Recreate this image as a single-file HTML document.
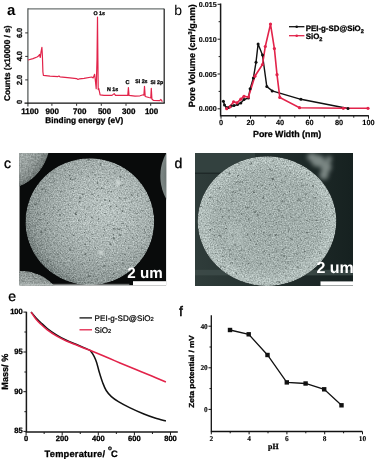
<!DOCTYPE html>
<html><head><meta charset="utf-8"><style>
html,body{margin:0;padding:0;background:#fff;}
body{width:377px;height:461px;overflow:hidden;}
svg{display:block;filter:blur(0.3px);font-family:"Liberation Sans", Arial, sans-serif;text-rendering:geometricPrecision;}
</style></head><body>
<svg width="377" height="461" viewBox="0 0 377 461">
<defs>
<clipPath id="clipc"><rect x="19.3" y="153" width="147" height="132.6"/></clipPath>
<clipPath id="clipd"><rect x="195" y="153" width="158" height="133"/></clipPath>
<radialGradient id="gC" cx="0.62" cy="0.4" r="0.72">
 <stop offset="0" stop-color="#b8c2c0"/><stop offset="0.4" stop-color="#aab4b2"/><stop offset="0.68" stop-color="#98a2a0"/><stop offset="0.8" stop-color="#8d9795"/><stop offset="0.88" stop-color="#7a8482"/><stop offset="0.95" stop-color="#6a7472"/><stop offset="1" stop-color="#646e6c"/>
</radialGradient>
<radialGradient id="gD" cx="0.5" cy="0.5" r="0.5">
 <stop offset="0" stop-color="#a0aca9"/><stop offset="0.75" stop-color="#a4b0ad"/><stop offset="0.93" stop-color="#b3bfbc"/><stop offset="1" stop-color="#aebab7"/>
</radialGradient>
<linearGradient id="gDbg" x1="0" y1="0" x2="1" y2="0">
 <stop offset="0" stop-color="#2f3c3a"/><stop offset="1" stop-color="#162120"/>
</linearGradient>
<radialGradient id="gTL" cx="0.5" cy="0.5" r="0.5">
 <stop offset="0.35" stop-color="#a9b1af"/><stop offset="0.65" stop-color="#9ca4a2"/><stop offset="0.88" stop-color="#868e8c"/><stop offset="1" stop-color="#6a7270"/>
</radialGradient>
<radialGradient id="gTR" cx="0.5" cy="0.5" r="0.5">
 <stop offset="0.75" stop-color="#5a6260"/><stop offset="0.93" stop-color="#76807e"/><stop offset="1" stop-color="#7e8886"/>
</radialGradient>
<radialGradient id="gBL" cx="0.5" cy="0.5" r="0.5">
 <stop offset="0.6" stop-color="#a6aeac"/><stop offset="1" stop-color="#8a9290"/>
</radialGradient>
<filter id="tex" x="0" y="0" width="1" height="1" color-interpolation-filters="sRGB">
 <feTurbulence type="fractalNoise" baseFrequency="0.75" numOctaves="2" seed="7" result="t"/>
 <feColorMatrix in="t" type="matrix" values="1 0 0 0 0  1 0 0 0 0  1 0 0 0 0  0 0 0 0 1" result="g"/>
 <feGaussianBlur in="g" stdDeviation="0.3" result="gb"/>
 <feComposite in="SourceGraphic" in2="gb" operator="arithmetic" k1="0" k2="1" k3="0.45" k4="-0.225" result="c"/>
 <feTurbulence type="fractalNoise" baseFrequency="0.32" numOctaves="2" seed="11" result="t2"/>
 <feColorMatrix in="t2" type="matrix" values="0 0 0 0 0.38  0 0 0 0 0.42  0 0 0 0 0.41  -6 0 0 0 2.0" result="spk"/>
 <feGaussianBlur in="spk" stdDeviation="0.35" result="spkb"/>
 <feComposite in="spkb" in2="c" operator="over" result="c2"/>
 <feComposite in="c2" in2="SourceGraphic" operator="in"/>
</filter>
<filter id="texs" x="0" y="0" width="1" height="1" color-interpolation-filters="sRGB">
 <feTurbulence type="fractalNoise" baseFrequency="0.6" numOctaves="2" seed="3" result="t"/>
 <feColorMatrix in="t" type="matrix" values="1 0 0 0 0  1 0 0 0 0  1 0 0 0 0  0 0 0 0 1" result="g"/>
 <feGaussianBlur in="g" stdDeviation="0.6" result="gb"/>
 <feComposite in="SourceGraphic" in2="gb" operator="arithmetic" k1="0" k2="1" k3="0.35" k4="-0.175" result="c"/>
 <feComposite in="c" in2="SourceGraphic" operator="in"/>
</filter>
<filter id="blur05" x="-1" y="-1" width="3" height="3"><feGaussianBlur stdDeviation="0.5"/></filter>
<filter id="blur08" x="-1" y="-1" width="3" height="3"><feGaussianBlur stdDeviation="0.8"/></filter>
<filter id="blur2" x="-0.5" y="-0.5" width="2" height="2"><feGaussianBlur stdDeviation="1.9"/></filter>
</defs>
<text x="7" y="15.1" font-size="15" font-weight="bold"  >a</text>
<path d="M28,8.8 H164.2" fill="none" stroke="#6d7372" stroke-width="1.2"/>
<path d="M164.2,8.8 V103.1" fill="none" stroke="#2a2a2a" stroke-width="1.3"/>
<path d="M27.9,8.2 V106.5" fill="none" stroke="#4d5352" stroke-width="1.2"/>
<path d="M24.5,103.1 H164.8" fill="none" stroke="#111" stroke-width="1.4"/>
<line x1="25.2" y1="79.9" x2="28" y2="79.9" stroke="#333" stroke-width="1"/>
<line x1="25.2" y1="56.4" x2="28" y2="56.4" stroke="#333" stroke-width="1"/>
<line x1="25.2" y1="32.9" x2="28" y2="32.9" stroke="#333" stroke-width="1"/>
<line x1="51.9" y1="103.1" x2="51.9" y2="105.8" stroke="#333" stroke-width="1"/>
<line x1="76.6" y1="103.1" x2="76.6" y2="105.8" stroke="#333" stroke-width="1"/>
<line x1="101.3" y1="103.1" x2="101.3" y2="105.8" stroke="#333" stroke-width="1"/>
<line x1="126.0" y1="103.1" x2="126.0" y2="105.8" stroke="#333" stroke-width="1"/>
<line x1="150.7" y1="103.1" x2="150.7" y2="105.8" stroke="#333" stroke-width="1"/>
<text transform="translate(21.9,102.0) rotate(-90) scale(1.0,1)" text-anchor="middle" font-size="7.4" font-weight="bold" stroke="#000" stroke-width="0.28">0</text>
<text transform="translate(21.9,79.9) rotate(-90) scale(1.0,1)" text-anchor="middle" font-size="7.4" font-weight="bold" stroke="#000" stroke-width="0.28">2.0</text>
<text transform="translate(21.9,56.2) rotate(-90) scale(1.0,1)" text-anchor="middle" font-size="7.4" font-weight="bold" stroke="#000" stroke-width="0.28">4.0</text>
<text transform="translate(21.9,32.9) rotate(-90) scale(1.0,1)" text-anchor="middle" font-size="7.4" font-weight="bold" stroke="#000" stroke-width="0.28">6.0</text>
<text x="30.0" y="113.8" font-size="8.0" font-weight="bold" text-anchor="middle" stroke="#000" stroke-width="0.28" >1100</text>
<text x="52.2" y="113.8" font-size="8.0" font-weight="bold" text-anchor="middle" stroke="#000" stroke-width="0.28" >900</text>
<text x="79.7" y="113.8" font-size="8.0" font-weight="bold" text-anchor="middle" stroke="#000" stroke-width="0.28" >700</text>
<text x="104.6" y="113.8" font-size="8.0" font-weight="bold" text-anchor="middle" stroke="#000" stroke-width="0.28" >500</text>
<text x="128.7" y="113.8" font-size="8.0" font-weight="bold" text-anchor="middle" stroke="#000" stroke-width="0.28" >300</text>
<text x="151.6" y="113.8" font-size="8.0" font-weight="bold" text-anchor="middle" stroke="#000" stroke-width="0.28" >100</text>
<text x="45.3" y="123.4" font-size="8.25" font-weight="bold" stroke="#000" stroke-width="0.28" >Binding energy (eV)</text>
<text transform="translate(10.3,63.2) rotate(-90) scale(1.0,1)" text-anchor="middle" font-size="8.3" font-weight="bold" stroke="#000" stroke-width="0.28">Counts (x10000 / s)</text>
<polyline points="28.0,60.0 33.0,58.6 37.0,57.0 38.5,56.0 39.5,54.5 40.3,57.5 41.0,52.0 41.9,47.4 42.4,56.0 42.9,72.0 43.4,75.3 50.0,76.2 58.0,76.6 59.0,76.0 60.0,76.9 70.0,77.9 76.5,78.6 78.0,79.5 79.5,78.8 84.0,78.3 91.8,77.0 93.2,77.9 94.6,74.3 95.2,79.0 96.2,88.7 97.0,60.0 97.5,17.2 97.9,60.0 98.2,89.6 98.8,88.5 100.1,94.8 104.0,95.3 112.0,95.4 114.2,93.6 115.5,95.4 127.8,95.4 128.4,87.6 129.0,95.4 135.0,96.2 140.0,95.8 143.3,94.8 143.9,95.2 144.5,86.4 145.2,96.5 148.9,97.5 150.8,97.8 151.3,88.4 151.9,99.0 153.3,100.3 159.7,100.7 160.9,99.5 162.4,101.6" fill="none" stroke="#e2234a" stroke-width="1.2" stroke-linejoin="round"/>
<text x="93.4" y="14.8" font-size="5.3" font-weight="bold" stroke="#000" stroke-width="0.28" >O 1s</text>
<text x="107" y="91" font-size="5.3" font-weight="bold" stroke="#000" stroke-width="0.28" >N 1s</text>
<text x="125.6" y="83.5" font-size="5.6" font-weight="bold" stroke="#000" stroke-width="0.28" >C</text>
<text x="135.2" y="83" font-size="5.3" font-weight="bold" stroke="#000" stroke-width="0.28" >Si 2s</text>
<text x="150.5" y="84" font-size="5.3" font-weight="bold" stroke="#000" stroke-width="0.28" >Si 2p</text>
<text x="174.3" y="15.1" font-size="14"  >b</text>
<path d="M220.6,3.5 V115.7 H368.8" fill="none" stroke="#1a1a1a" stroke-width="1.5"/>
<line x1="217.6" y1="4.3" x2="220.6" y2="4.3" stroke="#1a1a1a" stroke-width="1"/>
<line x1="218.6" y1="21.7" x2="220.6" y2="21.7" stroke="#1a1a1a" stroke-width="1"/>
<line x1="217.6" y1="39.2" x2="220.6" y2="39.2" stroke="#1a1a1a" stroke-width="1"/>
<line x1="218.6" y1="56.6" x2="220.6" y2="56.6" stroke="#1a1a1a" stroke-width="1"/>
<line x1="217.6" y1="74.0" x2="220.6" y2="74.0" stroke="#1a1a1a" stroke-width="1"/>
<line x1="218.6" y1="91.4" x2="220.6" y2="91.4" stroke="#1a1a1a" stroke-width="1"/>
<line x1="217.6" y1="108.8" x2="220.6" y2="108.8" stroke="#1a1a1a" stroke-width="1"/>
<line x1="221.00" y1="115.7" x2="221.00" y2="118.7" stroke="#1a1a1a" stroke-width="1"/>
<line x1="235.75" y1="115.7" x2="235.75" y2="117.7" stroke="#1a1a1a" stroke-width="1"/>
<line x1="250.50" y1="115.7" x2="250.50" y2="118.7" stroke="#1a1a1a" stroke-width="1"/>
<line x1="265.25" y1="115.7" x2="265.25" y2="117.7" stroke="#1a1a1a" stroke-width="1"/>
<line x1="280.00" y1="115.7" x2="280.00" y2="118.7" stroke="#1a1a1a" stroke-width="1"/>
<line x1="294.75" y1="115.7" x2="294.75" y2="117.7" stroke="#1a1a1a" stroke-width="1"/>
<line x1="309.50" y1="115.7" x2="309.50" y2="118.7" stroke="#1a1a1a" stroke-width="1"/>
<line x1="324.25" y1="115.7" x2="324.25" y2="117.7" stroke="#1a1a1a" stroke-width="1"/>
<line x1="339.00" y1="115.7" x2="339.00" y2="118.7" stroke="#1a1a1a" stroke-width="1"/>
<line x1="353.75" y1="115.7" x2="353.75" y2="117.7" stroke="#1a1a1a" stroke-width="1"/>
<line x1="368.50" y1="115.7" x2="368.50" y2="118.7" stroke="#1a1a1a" stroke-width="1"/>
<text x="216.7" y="6.9" font-size="7.2" font-weight="bold" text-anchor="end" stroke="#000" stroke-width="0.1" >0.015</text>
<text x="216.7" y="41.8" font-size="7.2" font-weight="bold" text-anchor="end" stroke="#000" stroke-width="0.1" >0.010</text>
<text x="216.7" y="76.6" font-size="7.2" font-weight="bold" text-anchor="end" stroke="#000" stroke-width="0.1" >0.005</text>
<text x="216.7" y="111.4" font-size="7.2" font-weight="bold" text-anchor="end" stroke="#000" stroke-width="0.1" >0.000</text>
<text x="221.0" y="125.4" font-size="7.4" font-weight="bold" text-anchor="middle" stroke="#000" stroke-width="0.1" >0</text>
<text x="250.5" y="125.4" font-size="7.4" font-weight="bold" text-anchor="middle" stroke="#000" stroke-width="0.1" >20</text>
<text x="280.0" y="125.4" font-size="7.4" font-weight="bold" text-anchor="middle" stroke="#000" stroke-width="0.1" >40</text>
<text x="309.5" y="125.4" font-size="7.4" font-weight="bold" text-anchor="middle" stroke="#000" stroke-width="0.1" >60</text>
<text x="339.0" y="125.4" font-size="7.4" font-weight="bold" text-anchor="middle" stroke="#000" stroke-width="0.1" >80</text>
<text x="368.5" y="125.4" font-size="7.4" font-weight="bold" text-anchor="middle" stroke="#000" stroke-width="0.1" >100</text>
<text x="253.0" y="136.5" font-size="8.85" font-weight="bold" stroke="#000" stroke-width="0.28" >Pore Width (nm)</text>
<text transform="translate(195.4,55.8) rotate(-90) scale(1.0,1)" text-anchor="middle" font-size="9.0" font-weight="bold" stroke="#000" stroke-width="0.28">Pore Volume (cm<tspan font-size="5.6" dy="-3.4">3</tspan><tspan dy="3.4">/g.nm)</tspan></text>
<polyline points="223.4,101.3 224.5,105.0 226.7,107.8 228.5,107.5 231.0,106.1 234.0,105.6 237.5,104.6 240.8,102.9 244.0,99.6 248.4,97.9 250.1,88.8 253.4,77.9 256.0,62.3 258.1,43.9 262.5,55.1 266.8,86.6 272.2,90.9 300.9,99.3 348.0,108.5" fill="none" stroke="#111" stroke-width="1.4"/>
<polyline points="226.7,108.7 230.0,106.8 233.6,101.8 237.0,102.8 240.8,99.2 244.0,96.3 248.4,97.0 254.9,76.2 262.5,64.5 265.3,46.5 270.5,24.1 274.4,48.6 277.0,74.7 279.8,97.4 299.5,107.7 343.3,108.3 368.0,108.3" fill="none" stroke="#e2234a" stroke-width="1.6"/>
<circle cx="223.4" cy="101.3" r="1.5" fill="#111"/>
<circle cx="224.5" cy="105" r="1.5" fill="#111"/>
<circle cx="226.7" cy="107.8" r="1.5" fill="#111"/>
<circle cx="228.5" cy="107.5" r="1.5" fill="#111"/>
<circle cx="231" cy="106.1" r="1.5" fill="#111"/>
<circle cx="234" cy="105.6" r="1.5" fill="#111"/>
<circle cx="237.5" cy="104.6" r="1.5" fill="#111"/>
<circle cx="240.8" cy="102.9" r="1.5" fill="#111"/>
<circle cx="244" cy="99.6" r="1.5" fill="#111"/>
<circle cx="248.4" cy="97.9" r="1.5" fill="#111"/>
<circle cx="250.1" cy="88.8" r="1.5" fill="#111"/>
<circle cx="253.4" cy="77.9" r="1.5" fill="#111"/>
<circle cx="256" cy="62.3" r="1.5" fill="#111"/>
<circle cx="258.1" cy="43.9" r="1.5" fill="#111"/>
<circle cx="262.5" cy="55.1" r="1.5" fill="#111"/>
<circle cx="266.8" cy="86.6" r="1.5" fill="#111"/>
<circle cx="272.2" cy="90.9" r="1.5" fill="#111"/>
<circle cx="300.9" cy="99.3" r="1.5" fill="#111"/>
<circle cx="348" cy="108.5" r="1.5" fill="#111"/>
<circle cx="226.7" cy="108.7" r="1.6" fill="#e2234a"/>
<circle cx="230" cy="106.8" r="1.6" fill="#e2234a"/>
<circle cx="233.6" cy="101.8" r="1.6" fill="#e2234a"/>
<circle cx="237" cy="102.8" r="1.6" fill="#e2234a"/>
<circle cx="240.8" cy="99.2" r="1.6" fill="#e2234a"/>
<circle cx="244" cy="96.3" r="1.6" fill="#e2234a"/>
<circle cx="248.4" cy="97" r="1.6" fill="#e2234a"/>
<circle cx="254.9" cy="76.2" r="1.6" fill="#e2234a"/>
<circle cx="262.5" cy="64.5" r="1.6" fill="#e2234a"/>
<circle cx="265.3" cy="46.5" r="1.6" fill="#e2234a"/>
<circle cx="270.5" cy="24.1" r="1.6" fill="#e2234a"/>
<circle cx="274.4" cy="48.6" r="1.6" fill="#e2234a"/>
<circle cx="277" cy="74.7" r="1.6" fill="#e2234a"/>
<circle cx="279.8" cy="97.4" r="1.6" fill="#e2234a"/>
<circle cx="299.5" cy="107.7" r="1.6" fill="#e2234a"/>
<circle cx="343.3" cy="108.3" r="1.6" fill="#e2234a"/>
<circle cx="368" cy="108.3" r="1.6" fill="#e2234a"/>
<line x1="289" y1="26.7" x2="304.4" y2="26.7" stroke="#111" stroke-width="1.3"/><circle cx="296.7" cy="26.7" r="1.3" fill="#111"/>
<line x1="289" y1="35.7" x2="304.4" y2="35.7" stroke="#e2234a" stroke-width="1.3"/><circle cx="296.7" cy="35.7" r="1.3" fill="#e2234a"/>
<text x="305.7" y="30.6" font-size="7.9" font-weight="bold" stroke="#000" stroke-width="0.28" >PEI-g-SD@SiO<tspan font-size="5.6" dy="2">2</tspan></text>
<text x="305.7" y="39.4" font-size="7.9" font-weight="bold" stroke="#000" stroke-width="0.28" >SiO<tspan font-size="5.6" dy="2">2</tspan></text>
<g clip-path="url(#clipc)">
<rect x="19.3" y="153" width="147" height="132.6" fill="#090b0b"/>
<circle cx="0.2" cy="140.3" r="50" fill="url(#gTL)" filter="url(#texs)"/>
<circle cx="206.9" cy="176.1" r="46.6" fill="url(#gTR)"/>
<circle cx="21.3" cy="315" r="44.2" fill="url(#gBL)" filter="url(#tex)"/>
<ellipse cx="89.8" cy="221.7" rx="64.4" ry="63.5" fill="url(#gC)" filter="url(#tex)"/>
<g filter="url(#blur08)" fill="#d2dad8">
 <ellipse cx="118.5" cy="183" rx="2.2" ry="2.8"/><ellipse cx="101" cy="252.5" rx="2.4" ry="2"/><ellipse cx="84" cy="224" rx="1.2" ry="1.2"/><ellipse cx="88" cy="223" rx="1" ry="1.4"/>
</g>
<g filter="url(#blur05)" fill="#4f5856" opacity="0.7">
 <circle cx="80" cy="198" r="1"/><circle cx="60" cy="215" r="0.9"/><circle cx="70" cy="250" r="1"/><circle cx="105" cy="200" r="0.9"/><circle cx="120" cy="235" r="1"/><circle cx="45" cy="230" r="0.9"/><circle cx="95" cy="175" r="0.8"/><circle cx="130" cy="210" r="0.8"/>
</g>
<rect x="19.3" y="283.8" width="110" height="1.8" fill="#c4ccca" opacity="0.55"/>
<text x="127.3" y="277.7" font-size="15.2" font-weight="bold" fill="#fff">2 um</text>
<rect x="133" y="281.2" width="33.3" height="4.4" fill="#fff"/>
</g>
<text x="4.0" y="168.0" font-size="14" stroke="#000" stroke-width="0.35" >c</text>
<g clip-path="url(#clipd)">
<rect x="195" y="153" width="158" height="133" fill="url(#gDbg)"/>
<rect x="195" y="153" width="60" height="20" fill="#33413f"/>
<rect x="195" y="172.6" width="60" height="1.2" fill="#182120" opacity="0.8"/>
<rect x="195" y="269.8" width="158" height="5.6" fill="#3d4b49" opacity="0.85"/>
<g filter="url(#blur2)" fill="#7a8683">
 <ellipse cx="318" cy="161" rx="7" ry="6"/><ellipse cx="326" cy="167" rx="5.5" ry="6"/><ellipse cx="324" cy="175" rx="4.5" ry="4.5"/><ellipse cx="312" cy="157" rx="5" ry="4"/><ellipse cx="329" cy="159" rx="3" ry="3"/>
</g>
<ellipse cx="267" cy="221.1" rx="69.4" ry="64.9" fill="url(#gD)" filter="url(#tex)"/>
<rect x="227.6" y="224.6" width="15.3" height="21" fill="#bcc8c5" opacity="0.3" filter="url(#blur05)"/>
<g filter="url(#blur05)" fill="#56625f" opacity="0.6">
 <circle cx="255" cy="212" r="1.2"/><circle cx="258" cy="215" r="1"/><circle cx="284" cy="256" r="1.1"/><circle cx="283" cy="250" r="0.9"/><circle cx="300" cy="200" r="0.9"/><circle cx="240" cy="190" r="0.9"/><circle cx="270" cy="235" r="1"/><circle cx="262" cy="185" r="0.8"/><circle cx="230" cy="250" r="0.9"/>
</g>
<text x="316.4" y="272.9" font-size="16" font-weight="bold" fill="#fff">2 um</text>
<rect x="320.5" y="281.4" width="33" height="4.2" fill="#fff"/>
</g>
<text x="174.6" y="168.0" font-size="14" stroke="#000" stroke-width="0.35" >d</text>
<text x="8.2" y="301.3" font-size="14" stroke="#000" stroke-width="0.3" >e</text>
<path d="M26.4,311.7 V432 H177.8" fill="none" stroke="#1a1a1a" stroke-width="1.5"/>
<line x1="23.4" y1="312.1" x2="26.4" y2="312.1" stroke="#1a1a1a" stroke-width="1"/>
<line x1="24.4" y1="332" x2="26.4" y2="332" stroke="#1a1a1a" stroke-width="1"/>
<line x1="23.4" y1="352" x2="26.4" y2="352" stroke="#1a1a1a" stroke-width="1"/>
<line x1="24.4" y1="372" x2="26.4" y2="372" stroke="#1a1a1a" stroke-width="1"/>
<line x1="23.4" y1="391.7" x2="26.4" y2="391.7" stroke="#1a1a1a" stroke-width="1"/>
<line x1="24.4" y1="411.7" x2="26.4" y2="411.7" stroke="#1a1a1a" stroke-width="1"/>
<line x1="23.4" y1="431.4" x2="26.4" y2="431.4" stroke="#1a1a1a" stroke-width="1"/>
<line x1="26.10" y1="432" x2="26.10" y2="435" stroke="#1a1a1a" stroke-width="1"/>
<line x1="44.15" y1="432" x2="44.15" y2="434" stroke="#1a1a1a" stroke-width="1"/>
<line x1="62.20" y1="432" x2="62.20" y2="435" stroke="#1a1a1a" stroke-width="1"/>
<line x1="80.25" y1="432" x2="80.25" y2="434" stroke="#1a1a1a" stroke-width="1"/>
<line x1="98.30" y1="432" x2="98.30" y2="435" stroke="#1a1a1a" stroke-width="1"/>
<line x1="116.35" y1="432" x2="116.35" y2="434" stroke="#1a1a1a" stroke-width="1"/>
<line x1="134.40" y1="432" x2="134.40" y2="435" stroke="#1a1a1a" stroke-width="1"/>
<line x1="152.45" y1="432" x2="152.45" y2="434" stroke="#1a1a1a" stroke-width="1"/>
<line x1="170.50" y1="432" x2="170.50" y2="435" stroke="#1a1a1a" stroke-width="1"/>
<text x="22.8" y="314.1" font-size="7.6" font-weight="bold" text-anchor="end" stroke="#000" stroke-width="0.28" >100</text>
<text x="22.8" y="354.0" font-size="7.6" font-weight="bold" text-anchor="end" stroke="#000" stroke-width="0.28" >95</text>
<text x="22.8" y="393.7" font-size="7.6" font-weight="bold" text-anchor="end" stroke="#000" stroke-width="0.28" >90</text>
<text x="22.8" y="433.4" font-size="7.6" font-weight="bold" text-anchor="end" stroke="#000" stroke-width="0.28" >85</text>
<text x="26.1" y="441.2" font-size="7.6" font-weight="bold" text-anchor="middle" stroke="#000" stroke-width="0.28" >0</text>
<text x="62.2" y="441.2" font-size="7.6" font-weight="bold" text-anchor="middle" stroke="#000" stroke-width="0.28" >200</text>
<text x="98.3" y="441.2" font-size="7.6" font-weight="bold" text-anchor="middle" stroke="#000" stroke-width="0.28" >400</text>
<text x="134.4" y="441.2" font-size="7.6" font-weight="bold" text-anchor="middle" stroke="#000" stroke-width="0.28" >600</text>
<text x="170.5" y="441.2" font-size="7.6" font-weight="bold" text-anchor="middle" stroke="#000" stroke-width="0.28" >800</text>
<text x="44.6" y="456.6" font-size="9.3" font-weight="bold" stroke="#000" stroke-width="0.28" letter-spacing="0.2">Temperature/ <tspan font-size="6.4" dx="0" dy="-6.6">o</tspan><tspan dx="-1" dy="6.6">C</tspan></text>
<text transform="translate(8.2,371.7) rotate(-90) scale(1.0,1)" text-anchor="middle" font-size="9.1" font-weight="bold" stroke="#000" stroke-width="0.28">Mass/ %</text>
<path d="M31.10,312.00 C31.93,312.98 34.47,316.12 36.10,317.90 C37.73,319.68 39.03,320.93 40.90,322.70 C42.77,324.47 44.65,326.43 47.30,328.50 C49.95,330.57 53.62,333.13 56.80,335.10 C59.98,337.07 63.20,338.77 66.40,340.30 C69.60,341.83 72.90,343.00 76.00,344.30 C79.10,345.60 82.92,347.22 85.00,348.10 C87.08,348.98 87.57,349.12 88.50,349.60 C89.43,350.08 89.67,349.88 90.60,351.00 C91.53,352.12 93.08,354.35 94.10,356.30 C95.12,358.25 95.83,360.03 96.70,362.70 C97.57,365.37 98.30,368.97 99.30,372.30 C100.30,375.63 101.55,379.67 102.70,382.70 C103.85,385.73 104.75,388.18 106.20,390.50 C107.65,392.82 109.37,394.75 111.40,396.60 C113.43,398.45 115.37,399.77 118.40,401.60 C121.43,403.43 125.35,405.53 129.60,407.60 C133.85,409.67 139.67,412.27 143.90,414.00 C148.13,415.73 151.33,416.83 155.00,418.00 C158.67,419.17 164.08,420.50 165.90,421.00" fill="none" stroke="#111" stroke-width="1.5"/>
<path d="M31.10,312.20 C31.93,313.38 34.47,317.30 36.10,319.30 C37.73,321.30 39.03,322.45 40.90,324.20 C42.77,325.95 44.65,327.82 47.30,329.80 C49.95,331.78 53.62,334.25 56.80,336.10 C59.98,337.95 63.20,339.45 66.40,340.90 C69.60,342.35 72.90,343.52 76.00,344.80 C79.10,346.08 82.28,347.52 85.00,348.60 C87.72,349.68 88.18,349.63 92.30,351.30 C96.42,352.97 105.08,356.67 109.70,358.60 C114.32,360.53 115.63,361.08 120.00,362.90 C124.37,364.72 130.60,367.30 135.90,369.50 C141.20,371.70 146.80,374.02 151.80,376.10 C156.80,378.18 163.55,381.02 165.90,382.00" fill="none" stroke="#e2234a" stroke-width="1.6"/>
<line x1="79.5" y1="317.9" x2="92" y2="317.9" stroke="#111" stroke-width="1.3"/>
<line x1="79.5" y1="329.8" x2="92" y2="329.8" stroke="#e2234a" stroke-width="1.3"/>
<text x="94.6" y="320.9" font-size="8.1" stroke="#000" stroke-width="0.22" >PEI-g-SD@SiO<tspan font-size="5.8">2</tspan></text>
<text x="94.6" y="332.7" font-size="8.1" stroke="#000" stroke-width="0.22" >SiO<tspan font-size="5.8">2</tspan></text>
<text x="178.9" y="315.5" font-size="13.8" stroke="#000" stroke-width="0.45" >f</text>
<path d="M211.3,315.2 V431.5 H362.4" fill="none" stroke="#111" stroke-width="1.3"/>
<line x1="208.5" y1="326.2" x2="211.3" y2="326.2" stroke="#111" stroke-width="1"/>
<line x1="208.5" y1="367.8" x2="211.3" y2="367.8" stroke="#111" stroke-width="1"/>
<line x1="208.5" y1="409.4" x2="211.3" y2="409.4" stroke="#111" stroke-width="1"/>
<line x1="209.5" y1="347" x2="211.3" y2="347" stroke="#111" stroke-width="1"/>
<line x1="209.5" y1="388.6" x2="211.3" y2="388.6" stroke="#111" stroke-width="1"/>
<line x1="211.30" y1="431.5" x2="211.30" y2="434.3" stroke="#111" stroke-width="1"/>
<line x1="230.20" y1="431.5" x2="230.20" y2="433.3" stroke="#111" stroke-width="1"/>
<line x1="249.10" y1="431.5" x2="249.10" y2="434.3" stroke="#111" stroke-width="1"/>
<line x1="268.00" y1="431.5" x2="268.00" y2="433.3" stroke="#111" stroke-width="1"/>
<line x1="286.90" y1="431.5" x2="286.90" y2="434.3" stroke="#111" stroke-width="1"/>
<line x1="305.80" y1="431.5" x2="305.80" y2="433.3" stroke="#111" stroke-width="1"/>
<line x1="324.70" y1="431.5" x2="324.70" y2="434.3" stroke="#111" stroke-width="1"/>
<line x1="343.60" y1="431.5" x2="343.60" y2="433.3" stroke="#111" stroke-width="1"/>
<line x1="362.50" y1="431.5" x2="362.50" y2="434.3" stroke="#111" stroke-width="1"/>
<text x="207.8" y="328.6" font-size="7.4" font-weight="bold" text-anchor="end" font-family='"Liberation Serif", "Times New Roman", serif' stroke="#000" stroke-width="0.1" >40</text>
<text x="207.8" y="370.2" font-size="7.4" font-weight="bold" text-anchor="end" font-family='"Liberation Serif", "Times New Roman", serif' stroke="#000" stroke-width="0.1" >20</text>
<text x="207.8" y="411.8" font-size="7.4" font-weight="bold" text-anchor="end" font-family='"Liberation Serif", "Times New Roman", serif' stroke="#000" stroke-width="0.1" >0</text>
<text x="211.3" y="441.4" font-size="7.4" font-weight="bold" text-anchor="middle" font-family='"Liberation Serif", "Times New Roman", serif' stroke="#000" stroke-width="0.1" >2</text>
<text x="249.1" y="441.4" font-size="7.4" font-weight="bold" text-anchor="middle" font-family='"Liberation Serif", "Times New Roman", serif' stroke="#000" stroke-width="0.1" >4</text>
<text x="286.9" y="441.4" font-size="7.4" font-weight="bold" text-anchor="middle" font-family='"Liberation Serif", "Times New Roman", serif' stroke="#000" stroke-width="0.1" >6</text>
<text x="324.7" y="441.4" font-size="7.4" font-weight="bold" text-anchor="middle" font-family='"Liberation Serif", "Times New Roman", serif' stroke="#000" stroke-width="0.1" >8</text>
<text x="362.5" y="441.4" font-size="7.4" font-weight="bold" text-anchor="middle" font-family='"Liberation Serif", "Times New Roman", serif' stroke="#000" stroke-width="0.1" >10</text>
<text x="268" y="449.2" font-size="7.9" font-weight="bold" font-family='"Liberation Serif", "Times New Roman", serif' stroke="#000" stroke-width="0.28" >pH</text>
<text transform="translate(194.3,371.5) rotate(-90) scale(1.12,1)" text-anchor="middle" font-size="7.3" font-weight="bold" stroke="#000" stroke-width="0.28">Zeta potential / mV</text>
<polyline points="230.0,330.0 248.7,334.3 267.5,355.0 286.8,382.4 305.6,383.5 324.2,389.3 341.5,405.3" fill="none" stroke="#111" stroke-width="1.3"/>
<rect x="227.8" y="327.8" width="4.4" height="4.4" fill="#111"/>
<rect x="246.5" y="332.1" width="4.4" height="4.4" fill="#111"/>
<rect x="265.3" y="352.8" width="4.4" height="4.4" fill="#111"/>
<rect x="284.6" y="380.2" width="4.4" height="4.4" fill="#111"/>
<rect x="303.4" y="381.3" width="4.4" height="4.4" fill="#111"/>
<rect x="322.0" y="387.1" width="4.4" height="4.4" fill="#111"/>
<rect x="339.3" y="403.1" width="4.4" height="4.4" fill="#111"/>
</svg>
</body></html>
